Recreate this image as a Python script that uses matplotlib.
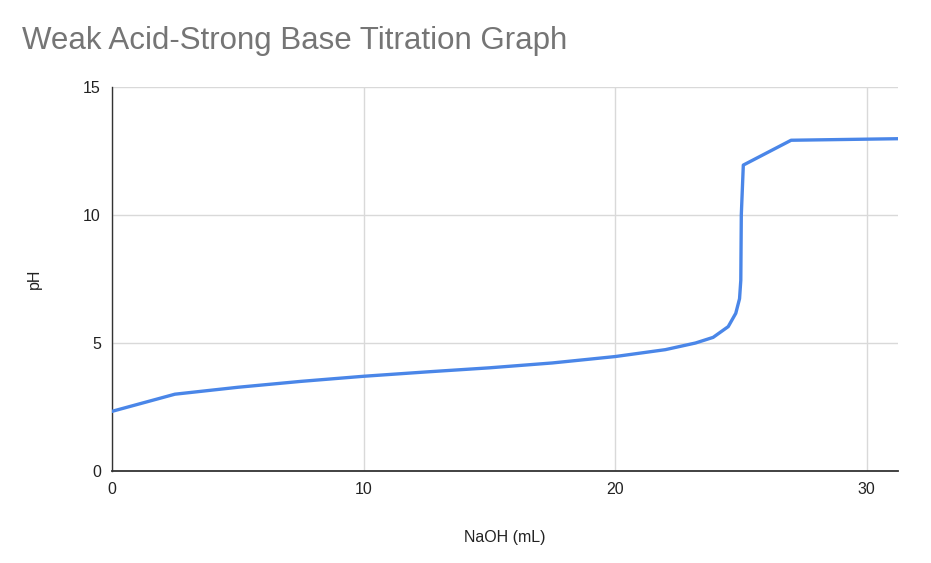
import matplotlib.pyplot as plt

# data
naoh_ml = [0, 2.5, 5, 7.5, 10, 12.5, 15, 17.5, 20, 22, 23.2, 23.9, 24.5,
           24.8, 24.95, 25.0, 25.02, 25.1, 27, 31.25]
ph = [2.33, 3.0, 3.27, 3.5, 3.70, 3.87, 4.03, 4.22, 4.47, 4.74, 5.0, 5.22,
      5.64, 6.16, 6.73, 7.45, 10.0, 11.95, 12.92, 12.98]
x_ticks = [0, 10, 20, 30]
y_ticks = [0, 5, 10, 15]

plt.rcParams['font.family'] = ['Liberation Sans', 'DejaVu Sans']

fig = plt.figure(figsize=(9.31, 5.63), dpi=100)
ax = fig.add_axes([112 / 931, 1 - 471 / 563, (898 - 112) / 931, (471 - 87) / 563])

ax.plot(naoh_ml, ph, color='#4a86e8', linewidth=2.4, solid_joinstyle='round', zorder=3)

ax.set_xlim(0, 31.25)
ax.set_ylim(0, 15)
ax.set_xticks(x_ticks)
ax.set_yticks(y_ticks)
ax.grid(True, color='#d9d9d9', linewidth=1)
ax.set_axisbelow(True)

for side in ['top', 'right']:
    ax.spines[side].set_visible(False)
ax.spines['left'].set_color('#333333')
ax.spines['left'].set_linewidth(1)
ax.spines['bottom'].set_color('#333333')
ax.spines['bottom'].set_linewidth(1.3)
ax.tick_params(length=0, labelsize=11.5, colors='#222222', pad=8)

ax.set_xlabel('NaOH (mL)', fontsize=11.5, color='#222222', labelpad=24)
ax.set_ylabel('pH', fontsize=11.5, color='#222222', labelpad=30)

fig.text(22 / 931, 1 - 41 / 563, 'Weak Acid-Strong Base Titration Graph',
         fontsize=22.5, color='#757575', va='center', ha='left')

fig.savefig('out.png', dpi=100)
